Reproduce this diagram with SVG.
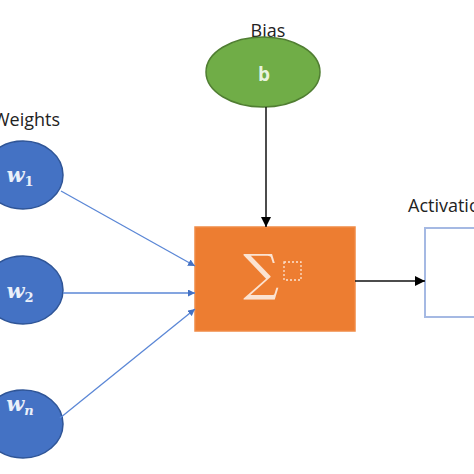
<svg xmlns="http://www.w3.org/2000/svg" width="474" height="474" viewBox="0 0 474 474">
<defs>
<marker id="ab" viewBox="0 0 10 10" refX="10" refY="5" markerWidth="7" markerHeight="7" orient="auto" markerUnits="userSpaceOnUse"><path d="M0,0 L10,5 L0,10 z" fill="#4472C4"/></marker>
<marker id="ak" viewBox="0 0 10 10" refX="10" refY="5" markerWidth="10" markerHeight="10" orient="auto" markerUnits="userSpaceOnUse"><path d="M0,0 L10,5 L0,10 z" fill="#000"/></marker>
</defs>
<style>
.lbl{font-family:"Open Sans","Liberation Sans",sans-serif;font-size:18px;fill:#222}
.w{fill:#4472C4;stroke:#2F5597;stroke-width:1.5}
.wt{font-family:"DejaVu Serif","Liberation Serif",serif;font-style:italic;font-weight:bold;font-size:21px;fill:#EAF0FA;text-anchor:middle}
.sub{font-size:13px;font-style:normal}
.subi{font-size:13px;font-style:italic}
.bl{stroke:#5B87D6;stroke-width:1.3;fill:none}
.bk{stroke:#111;stroke-width:1.5;fill:none}
</style>
<rect width="474" height="474" fill="#fff"/>
<text class="lbl" x="-7" y="126">Weights</text>
<g id="w1"><ellipse class="w" cx="23" cy="175" rx="40" ry="34"/><text class="wt" x="20" y="182">w<tspan class="sub" dy="4">1</tspan></text></g>
<g id="w2"><ellipse class="w" cx="23" cy="290" rx="40" ry="34"/><text class="wt" x="20" y="298">w<tspan class="sub" dy="4">2</tspan></text></g>
<g id="wn"><ellipse class="w" cx="23" cy="424" rx="40" ry="34"/><text class="wt" x="20" y="411">w<tspan class="subi" dy="4">n</tspan></text></g>
<g id="bias"><text class="lbl" x="268" y="37" text-anchor="middle">Bias</text><ellipse cx="263" cy="72" rx="57" ry="35" fill="#70AD47" stroke="#507E32" stroke-width="1.5"/><text x="264" y="81" text-anchor="middle" font-family="Open Sans,Liberation Sans,sans-serif" font-weight="bold" font-size="19" fill="#E8F3DF">b</text></g>
<g id="sum"><rect x="195" y="227" width="160" height="104" fill="#ED7D31" stroke="#F08A45" stroke-width="1.5"/><text x="261" y="290" text-anchor="middle" font-family="DejaVu Serif,serif" font-size="50" fill="#FBE3D2">∑</text><rect x="284" y="262" width="17" height="18" fill="none" stroke="#FBE3D2" stroke-width="1.3" stroke-dasharray="2,2"/></g>
<g id="activation"><text class="lbl" x="408" y="212">Activation</text><rect x="425" y="228" width="60" height="89" fill="#fff" stroke="#A5B9E3" stroke-width="2"/></g>
<g id="connectors">
<line class="bl" x1="61" y1="191" x2="195" y2="266" marker-end="url(#ab)"/>
<line class="bl" x1="63" y1="293" x2="195" y2="293" marker-end="url(#ab)"/>
<line class="bl" x1="60" y1="418" x2="195" y2="309" marker-end="url(#ab)"/>
<line class="bk" x1="266" y1="107" x2="266" y2="227" marker-end="url(#ak)"/>
<line class="bk" x1="355" y1="281" x2="425" y2="281" marker-end="url(#ak)"/>
</g>
</svg>
